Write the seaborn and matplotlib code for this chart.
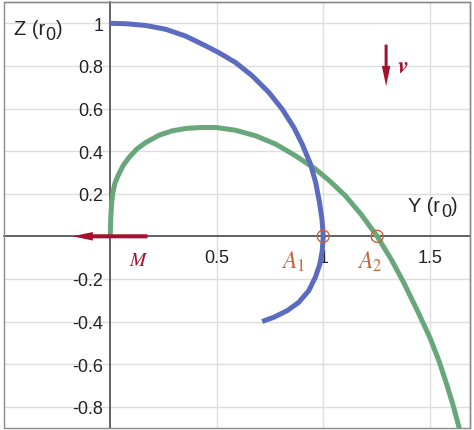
import numpy as np
import pandas as pd
import matplotlib
matplotlib.use("Agg")
import matplotlib.pyplot as plt
import seaborn as sns

# ==========================================
# data (units of r0)
# ==========================================
blue_y = [0.00, 0.073, 0.166, 0.26, 0.354, 0.448, 0.51, 0.588, 0.667, 0.745, 0.807,
          0.862, 0.901, 0.94, 0.965, 0.982, 0.994, 1.00, 0.995, 0.984, 0.963, 0.932,
          0.885, 0.831, 0.768, 0.713]
blue_z = [1.00, 0.998, 0.99, 0.972, 0.94, 0.894, 0.862, 0.816, 0.753, 0.675, 0.597,
          0.511, 0.433, 0.339, 0.25, 0.16, 0.08, 0.0, -0.07, -0.13, -0.192, -0.255,
          -0.31, -0.349, -0.38, -0.40]

green_y = [0.0, 0.001, 0.003, 0.006, 0.011, 0.022, 0.04, 0.062, 0.088, 0.125, 0.166,
           0.23, 0.29, 0.36, 0.432, 0.495, 0.588, 0.682, 0.776, 0.87, 0.963, 1.03,
           1.104, 1.18, 1.253, 1.32, 1.377, 1.44, 1.503, 1.545, 1.581, 1.61, 1.635,
           1.645]
green_z = [0.0, 0.05, 0.10, 0.15, 0.20, 0.25, 0.292, 0.335, 0.37, 0.41, 0.44,
           0.475, 0.495, 0.507, 0.511, 0.511, 0.498, 0.472, 0.433, 0.378, 0.316, 0.26,
           0.19, 0.10, 0.0, -0.11, -0.216, -0.345, -0.481, -0.59, -0.70, -0.795, -0.888,
           -0.93]

point_names = [r"$A_1$", r"$A_2$"]
point_y = [1.0, 1.253]
point_label_y = [0.86, 1.22]

xtick_vals = [0.5, 1.0, 1.5]
xtick_labels = ["0.5", "1", "1.5"]
ytick_vals = [-0.8, -0.6, -0.4, -0.2, 0.2, 0.4, 0.6, 0.8, 1.0]
ytick_labels = ["-0.8", "-0.6", "-0.4", "-0.2", "0.2", "0.4", "0.6", "0.8", "1"]

BLUE = "#5b6cc0"
GREEN = "#67a77a"
RED = "#a4102e"
ORANGE = "#c8643a"
INK = "#222222"

sns.set_theme(style="white")
plt.rcParams["font.family"] = ["Liberation Sans", "DejaVu Sans"]
plt.rcParams["mathtext.fontset"] = "stix"

fig = plt.figure(figsize=(4.74, 4.31), dpi=100)
ax = fig.add_axes([3 / 474, 2 / 431, 468 / 474, 426 / 431])
ax.set_axisbelow(True)

blue_df = pd.DataFrame({"y": blue_y, "z": blue_z})
green_df = pd.DataFrame({"y": green_y, "z": green_z})
sns.lineplot(data=blue_df, x="y", y="z", sort=False, estimator=None, color=BLUE,
             lw=3.6, ax=ax, zorder=4, solid_capstyle="butt", solid_joinstyle="round")
sns.lineplot(data=green_df, x="y", y="z", sort=False, estimator=None, color=GREEN,
             lw=3.6, ax=ax, zorder=3, solid_capstyle="butt", solid_joinstyle="round")

ax.set_xlim(-0.5, 1.69)
ax.set_ylim(-0.9, 1.1)
ax.set_aspect("equal")

# axes through the origin, grey box around
ax.spines["left"].set_position(("data", 0))
ax.spines["bottom"].set_position(("data", 0))
for s in ["left", "bottom"]:
    ax.spines[s].set_color("#555555")
    ax.spines[s].set_linewidth(1.3)
for s in ["top", "right"]:
    ax.spines[s].set_color("#8a8a8a")
    ax.spines[s].set_linewidth(1.0)
ax.add_patch(plt.Rectangle((0, 0), 1, 1, transform=ax.transAxes, fill=False,
                           ec="#8a8a8a", lw=1.0, clip_on=False, zorder=5))

ax.set_xticks(xtick_vals)
ax.set_xticklabels(xtick_labels)
ax.set_yticks(ytick_vals)
ax.set_yticklabels(ytick_labels)
ax.tick_params(axis="both", direction="in", length=4, width=1.1, color="#555555",
               labelsize=13, labelcolor=INK)
ax.tick_params(axis="x", pad=9)
ax.tick_params(axis="y", pad=5)
ax.grid(True, color="#dedede", lw=1.0)
ax.set_xlabel("")
ax.set_ylabel("")


def axis_label(x, y, head):
    # "Z (r" + lowered full-size "0" + ")"
    t1 = ax.text(x, y, head + " (r", fontsize=14.5, color=INK, ha="left", va="baseline")
    t2 = ax.annotate("0", xy=(1, 0), xycoords=t1, xytext=(0.3, -3.5),
                     textcoords="offset points", fontsize=13, color=INK,
                     ha="left", va="bottom")
    ax.annotate(")", xy=(1, 0), xycoords=t2, xytext=(0.3, 3.5),
                textcoords="offset points", fontsize=14.5, color=INK,
                ha="left", va="bottom")


axis_label(-0.452, 0.948, "Z")
axis_label(1.40, 0.119, "Y")

# crossing points on the Y axis
sns.scatterplot(x=point_y, y=[0, 0], ax=ax, s=75, facecolor="none",
                edgecolor=ORANGE, linewidth=1.0, zorder=6, legend=False)
for name, lx in zip(point_names, point_label_y):
    ax.text(lx, -0.115, name, fontsize=17, color=ORANGE, ha="center", va="center")

# force / velocity arrows
ax.arrow(1.295, 0.90, 0, -0.195, width=0.014, head_width=0.04, head_length=0.095,
         length_includes_head=True, color=RED, lw=0, zorder=7)
ax.text(1.375, 0.80, r"$\boldsymbol{v}$", fontsize=17, color=RED,
        ha="center", va="center")
ax.arrow(0.175, 0, -0.352, 0, width=0.019, head_width=0.04, head_length=0.095,
         length_includes_head=True, color=RED, lw=0, zorder=7)
ax.text(0.134, -0.115, r"$M$", fontsize=14, color=RED, ha="center", va="center")

plt.savefig("out.png", dpi=100)
plt.close()
